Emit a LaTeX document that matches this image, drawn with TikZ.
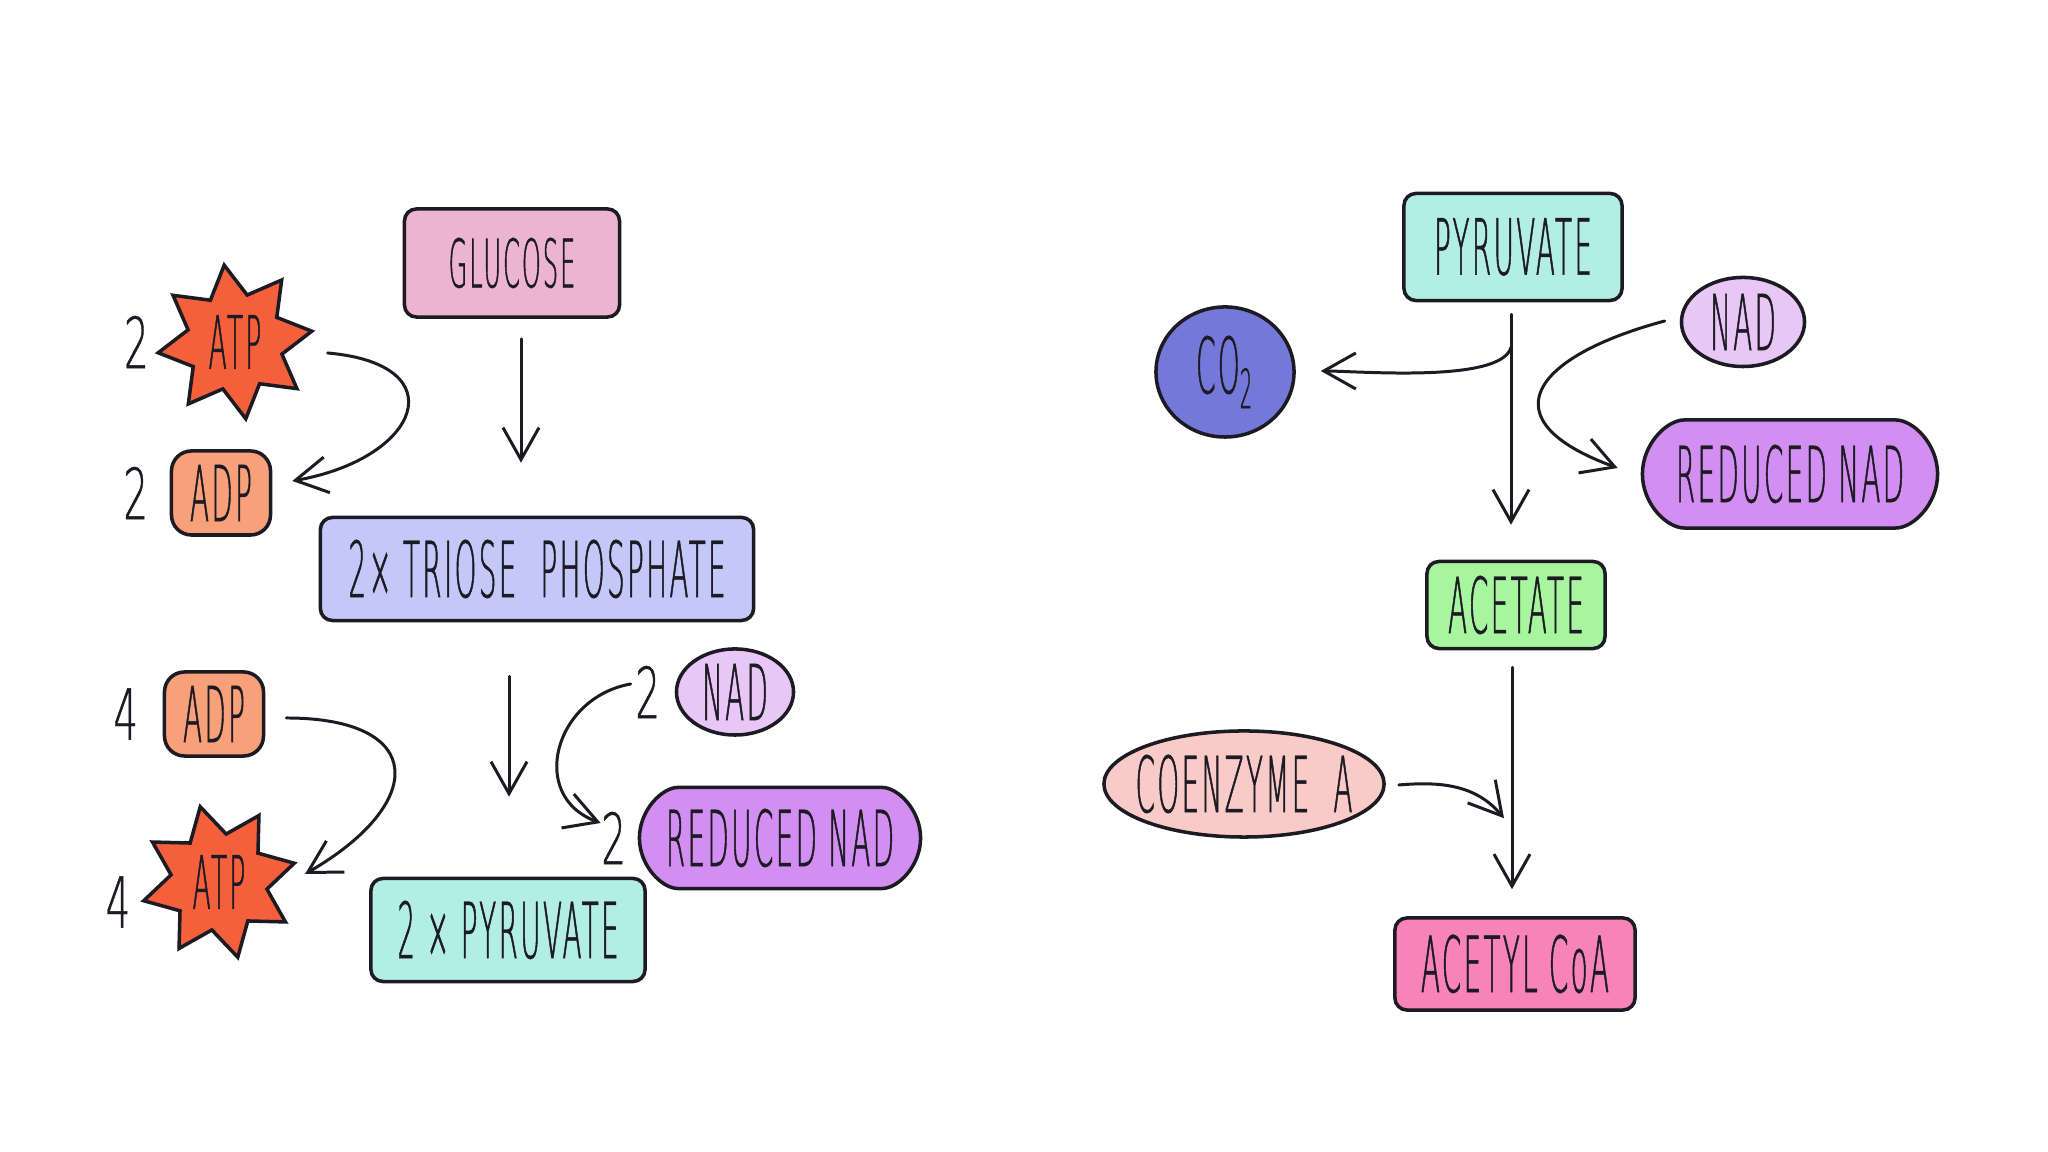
\documentclass[tikz,border=0pt]{standalone}
\usepackage{fontspec}
\setmainfont{DejaVu Sans ExtraLight}[FakeStretch=0.36, LetterSpace=3, FakeBold=0.6]
\newfontfamily\countfont{DejaVu Sans ExtraLight}[FakeStretch=0.55, FakeBold=0.6]
\usetikzlibrary{positioning,calc,arrows.meta,shapes.geometric,shapes.misc}

\definecolor{ink}{HTML}{1C1A22}
\definecolor{glucosepink}{HTML}{ECB3D3}
\definecolor{trioseblue}{HTML}{C3C8F9}
\definecolor{pyrcyan}{HTML}{B2EDE6}
\definecolor{atporange}{HTML}{F5603C}
\definecolor{adpsalmon}{HTML}{F7A07A}
\definecolor{nadlilac}{HTML}{E8C6F6}
\definecolor{rnadpurple}{HTML}{D38EF2}
\definecolor{cotwoblue}{HTML}{7479D9}
\definecolor{acegreen}{HTML}{A7F59F}
\definecolor{coapink}{HTML}{F9CBC8}
\definecolor{accpink}{HTML}{F883B9}

\tikzset{
  box/.style={draw=ink, line width=1pt, rounded corners=0.12cm, text=ink,
    inner sep=0pt, font=\fontsize{22}{25}\selectfont},
  blob/.style={box, ellipse},
  pill/.style={box, rounded rectangle},
  burst/.style={draw=ink, line width=1pt, fill=atporange, text=ink, star,
    star points=8, star point ratio=1.6, minimum size=1.55cm, inner sep=0pt,
    font=\fontsize{21}{24}\selectfont},
  num/.style={text=ink, inner sep=0pt, font=\countfont\fontsize{20}{23}\selectfont},
  arr/.style={draw=ink, line width=0.85pt, line cap=round,
    -{Straight Barb[length=3.2mm,width=3.6mm]}}
}

\begin{document}
\begin{tikzpicture}[x=0.01cm,y=0.01cm]
  \fill[white] (0,0) rectangle (2048,1152);
  \useasboundingbox (0,0) rectangle (2048,1152);

  % glycolysis
  \node[box, fill=glucosepink, minimum width=2.15cm, minimum height=1.08cm, font=\fontsize{19}{22}\selectfont] (glu) at (512,889) {GLUCOSE};
  \node[box, fill=trioseblue, minimum width=4.33cm, minimum height=1.03cm] (tri) at (537,583) {2× TRIOSE\, PHOSPHATE};
  \node[box, fill=pyrcyan, minimum width=2.74cm, minimum height=1.03cm] (pyrtwo) at (508,222) {2 × PYRUVATE};

  \node[burst, shape border rotate=8] (atpA) at (235,810) {ATP};
  \node[box, fill=adpsalmon, rounded corners=0.2cm, minimum width=0.99cm, minimum height=0.84cm] (adpA) at (221,659) {ADP};
  \node[box, fill=adpsalmon, rounded corners=0.2cm, minimum width=0.99cm, minimum height=0.84cm] (adpB) at (214,438) {ADP};
  \node[burst, shape border rotate=14] (atpB) at (219,270) {ATP};

  \node[blob, fill=nadlilac, minimum width=1.17cm, minimum height=0.86cm] (nadA) at (735,460) {NAD};
  \node[pill, fill=rnadpurple, minimum width=2.81cm, minimum height=1.01cm] (rnadA) at (780,314) {REDUCED NAD};

  % the counts in front of each molecule
  \foreach \who/\n/\gap in {atpA/2/0.2, adpA/2/0.21, adpB/4/0.24, nadA/2/0.14, rnadA/2/0.11} {
    \node[num, left=\gap cm of \who] (n\who) {\n};
  }
  \node[num, left=0.3cm of atpB, yshift=-0.2cm] (natpB) {4};

  \draw[arr] ($(glu.south)+(9,-20)$) -- ($(tri.north)+(-16,53)$);
  \draw[arr] ($(tri.south)+(-28,-54)$) -- ($(pyrtwo.north)+(1,80)$);
  \draw[arr] ($(atpA.east)+(27,-11)$) to[out=-5,in=10,looseness=2.5] ($(adpA.east)+(20,12)$);
  \draw[arr] ($(adpB.east)+(21,-4)$) to[out=0,in=30,looseness=2.3] ($(atpB.east)+(28,8)$);
  \draw[arr] ($(nadA.west)+(-44,8)$) to[out=190,in=160,looseness=1.4] ($(rnadA.west)+(-37,15)$);

  % link reaction
  \node[box, fill=pyrcyan, minimum width=2.18cm, minimum height=1.07cm] (pyr) at (1513,905) {PYRUVATE};
  \node[blob, fill=cotwoblue, minimum width=1.38cm, minimum height=1.30cm] (cotwo) at (1225,780) {CO\textsubscript{2}};
  \node[blob, fill=nadlilac, minimum width=1.23cm, minimum height=0.89cm] (nadB) at (1743,830) {NAD};
  \node[pill, fill=rnadpurple, minimum width=2.95cm, minimum height=1.08cm] (rnadB) at (1790,678) {REDUCED NAD};
  \node[box, fill=acegreen, minimum width=1.78cm, minimum height=0.87cm] (ace) at (1516,547) {ACETATE};
  \node[blob, fill=coapink, inner xsep=-0.1cm, minimum width=2.80cm, minimum height=1.06cm] (coa) at (1244,368) {COENZYME\, A};
  \node[box, fill=accpink, minimum width=2.40cm, minimum height=0.92cm] (acc) at (1515,188) {ACETYL CoA};

  \coordinate (fork) at ($(pyr.south)+(-2,-45)$);
  \draw[arr] ($(pyr.south)+(-2,-12)$) -- ($(ace.north)+(-5,35)$);
  \draw[arr] (fork) to[out=-105,in=0,looseness=0.5] ($(cotwo.east)+(25,1)$);
  \draw[arr] ($(nadB.west)+(-15,1)$) to[out=195,in=160,looseness=2.3] ($(rnadB.west)+(-23,6)$);
  \draw[arr] ($(ace.south)+(-4,-17)$) -- ($(acc.north)+(-3,27)$);
  \draw[arr] ($(coa.east)+(13,-1)$) to[out=5,in=130] ($(acc.north)+(-11,98)$);
\end{tikzpicture}
\end{document}
